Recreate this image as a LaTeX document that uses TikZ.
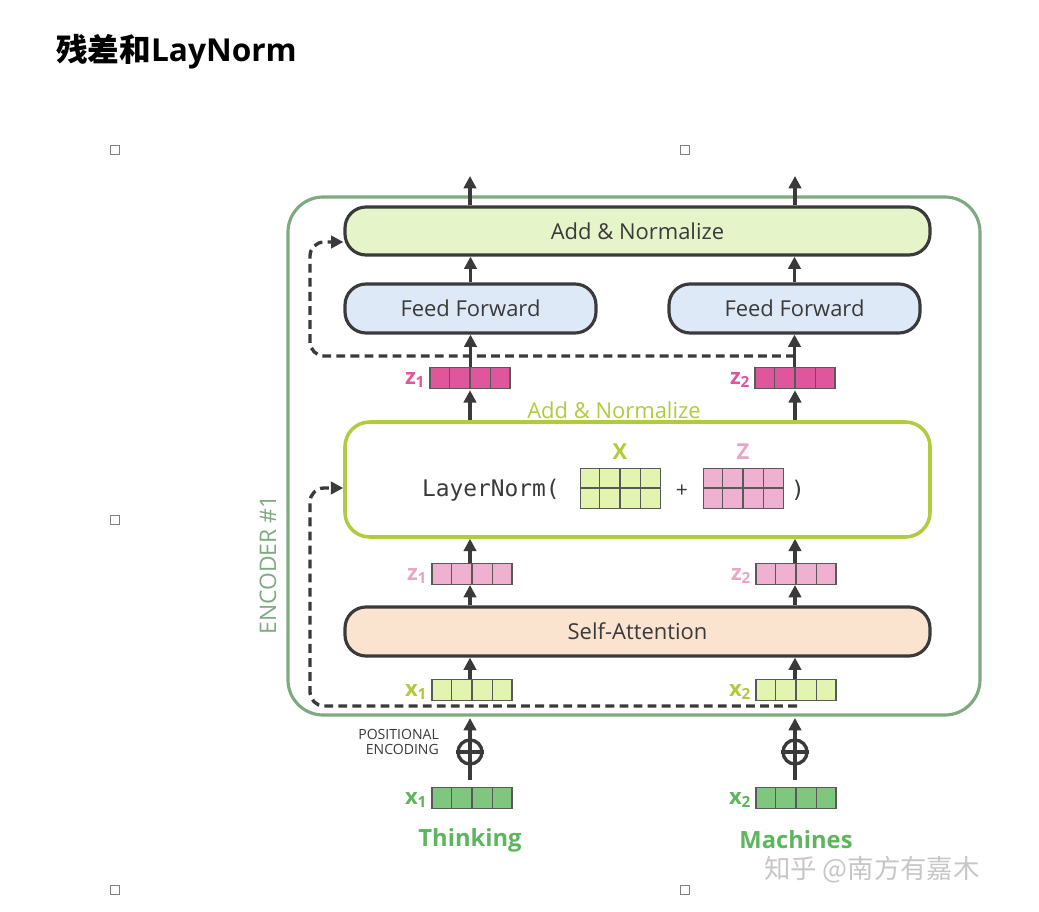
\documentclass[tikz,border=0pt]{standalone}
\usepackage{fontspec}
\setmainfont{Open Sans}
\newfontfamily\cjk{Noto Sans CJK SC}
\newfontfamily\mono{DejaVu Sans Mono}
\usetikzlibrary{arrows.meta,calc}
\definecolor{dk}{HTML}{3A3A3A}
\definecolor{encg}{HTML}{7FAA80}
\definecolor{lng}{HTML}{AECC3E}
\definecolor{anfill}{HTML}{E6F5C9}
\definecolor{fffill}{HTML}{DDE9F7}
\definecolor{safill}{HTML}{FBE4CF}
\definecolor{pinkD}{HTML}{E0569C}
\definecolor{pinkL}{HTML}{EEB2D0}
\definecolor{pinkT}{HTML}{E8A6C6}
\definecolor{grL}{HTML}{E3F3B0}
\definecolor{grT}{HTML}{B3C93A}
\definecolor{grM}{HTML}{7FC77F}
\definecolor{grW}{HTML}{5DB65D}
\tikzset{
 x=0.02cm,y=-0.02cm,
 blk/.style={draw=dk,line width=1.8pt,rounded corners=12pt,font=\fontsize{12.5}{14}\selectfont,text=dk},
 arr/.style={-{Triangle[length=7pt,width=7pt]},line width=1.9pt,dk},
 dsh/.style={-{Triangle[length=7pt,width=7pt]},line width=1.9pt,dk,dash pattern=on 5pt off 3pt,rounded corners=8pt},
 vec/.style={draw=gray!70!black,line width=0.6pt,minimum width=80*0.02cm,minimum height=21*0.02cm,inner sep=0pt},
 lbl/.style={font=\fontsize{12.5}{13}\selectfont\bfseries},
 sq/.style={draw=gray,line width=0.5pt,minimum size=5pt,inner sep=0pt},
}
\newcommand\cells[1]{\foreach \k in {1,2,3}{\draw[gray!70!black,line width=0.6pt] ($(#1.south west)!\k/4!(#1.south east)$) -- ($(#1.north west)!\k/4!(#1.north east)$);}}
\begin{document}
\begin{tikzpicture}
\useasboundingbox (0,0) rectangle (1039,912);
\node[anchor=west,font=\fontsize{18}{20}\selectfont\bfseries] (title) at (50,52) {{\cjk 残差和}LayNorm};
\foreach \p/\q [count=\i] in {115/150,685/150,115/520,115/890,685/890} \node[sq] (s\i) at (\p,\q) {};
% encoder
\draw[encg,line width=1.8pt,rounded corners=20pt] (288,197) rectangle (980,715);
\node[rotate=90,text=encg,font=\fontsize{13}{14}\selectfont] (enc) at (268,565) {ENCODER \#1};
% blocks
\node[blk,fill=anfill,minimum width=585*0.02cm,minimum height=48*0.02cm] (an) at (637.5,231) {Add \& Normalize};
\node[blk,fill=fffill,minimum width=251*0.02cm,minimum height=49*0.02cm] (ff1) at (470.5,308.5) {Feed Forward};
\node[blk,fill=fffill,minimum width=251*0.02cm,minimum height=49*0.02cm] (ff2) at (794.5,308.5) {Feed Forward};
\node[draw=lng,line width=2pt,rounded corners=14pt,fill=white,minimum width=585*0.02cm,minimum height=115*0.02cm] (ln) at (637.5,479.5) {};
\node[blk,fill=safill,minimum width=585*0.02cm,minimum height=49*0.02cm] (sa) at (637.5,631.5) {Self-Attention};
\node[text=lng,font=\fontsize{12.5}{14}\selectfont] (antxt) at (614,410) {Add \& Normalize};
% LayerNorm content
\node[font=\mono\fontsize{13}{14}\selectfont,text=dk] (lnt) at (491,490) {LayerNorm(};
\node[draw=gray!70!black,fill=grL,minimum width=80*0.02cm,minimum height=40*0.02cm,inner sep=0pt] (X) at (620,488) {};
\node[draw=gray!70!black,fill=pinkL,minimum width=80*0.02cm,minimum height=40*0.02cm,inner sep=0pt] (Z) at (743,488) {};
\foreach \m in {X,Z}{\cells{\m} \draw[gray!70!black,line width=0.6pt] (\m.west) -- (\m.east);}
\node[font=\fontsize{12}{14}\selectfont,text=dk] (plus) at (682,491) {+};
\node[font=\mono\fontsize{13}{14}\selectfont,text=dk] (rp) at (798,490) {)};
\node[lbl,text=grT] (Xl) at (620,452) {X};
\node[lbl,text=pinkT] (Zl) at (743,452) {Z};
% vectors
\foreach \n/\xx/\yy/\c/\tc/\t in {zd1/470/378/pinkD/pinkD/z_1, zd2/795/378/pinkD/pinkD/z_2, zl1/472/574/pinkL/pinkT/z_1, zl2/796/574/pinkL/pinkT/z_2, xl1/472/690/grL/grT/x_1, xl2/796/690/grL/grT/x_2, xg1/472/798/grM/grW/x_1, xg2/796/798/grM/grW/x_2}{
 \node[vec,fill=\c] (\n) at (\xx,\yy) {};
 \cells{\n}
 \node[lbl,text=\tc,anchor=east,inner sep=1pt] (\n l) at ($(\n.west)+(-2,2)$) {$\mathbf{\t}$};
}
% arrows
\coordinate (t1) at (470,176);
\coordinate (t2) at (795,176);
\draw[arr] (an.north -| zd1) -- (t1);
\draw[arr] (an.north -| zd2) -- (t2);
\draw[arr] (ff1.north) -- (an.south -| ff1);
\draw[arr] (ff2.north) -- (an.south -| ff2);
\draw[arr] (zd1.north -| ff1) -- (ff1.south);
\draw[arr] (zd2.north -| ff2) -- (ff2.south);
\draw[arr] (ln.north -| zd1) -- ++(0,-30);
\draw[arr] (ln.north -| zd2) -- ++(0,-30);
\draw[arr] (zl1.north -| zd1) -- (ln.south -| zd1);
\draw[arr] (zl2.north -| zd2) -- (ln.south -| zd2);
\draw[arr] (sa.north -| zd1) -- (zl1.south -| zd1);
\draw[arr] (sa.north -| zd2) -- (zl2.south -| zd2);
\draw[arr] (xl1.north -| zd1) -- (sa.south -| zd1);
\draw[arr] (xl2.north -| zd2) -- (sa.south -| zd2);
% positional
\foreach \i/\xx in {1/470,2/795}{
 \node[draw=dk,circle,line width=1.9pt,minimum size=24*0.02cm,inner sep=0pt] (c\i) at (\xx,752) {};
 \draw[dk,line width=1.9pt] (c\i.north) -- (c\i.south) (c\i.west) -- (c\i.east);
 \draw[dk,line width=1.9pt] (\xx,780) -- (c\i.south);
 \draw[arr] (c\i.north) -- (\xx,718);
}
\node[align=right,anchor=east,font=\fontsize{8}{9}\selectfont,text=dk] (pe) at (445,742) {POSITIONAL\\ENCODING};
\node[text=grW,font=\fontsize{13.5}{15}\selectfont\bfseries] (w1) at (470,840) {Thinking};
\node[text=grW,font=\fontsize{13.5}{15}\selectfont\bfseries] (w2) at (796,840) {Machines};
% residual dashed
\coordinate (d1) at (795,356);
\coordinate (d2) at (310,356);
\draw[dsh] (d1) -- (d2) -- (310,242) -- (an.west |- 0,242);
\coordinate (e1) at (797,706);
\draw[dsh] (e1) -- (310,706) -- (310,488) -- (ln.west |- 0,488);
\node[text=gray!45,font=\cjk\fontsize{15}{16}\selectfont,anchor=west] (wm) at (758,870) {知乎 @南方有嘉木};
\end{tikzpicture}
\end{document}
